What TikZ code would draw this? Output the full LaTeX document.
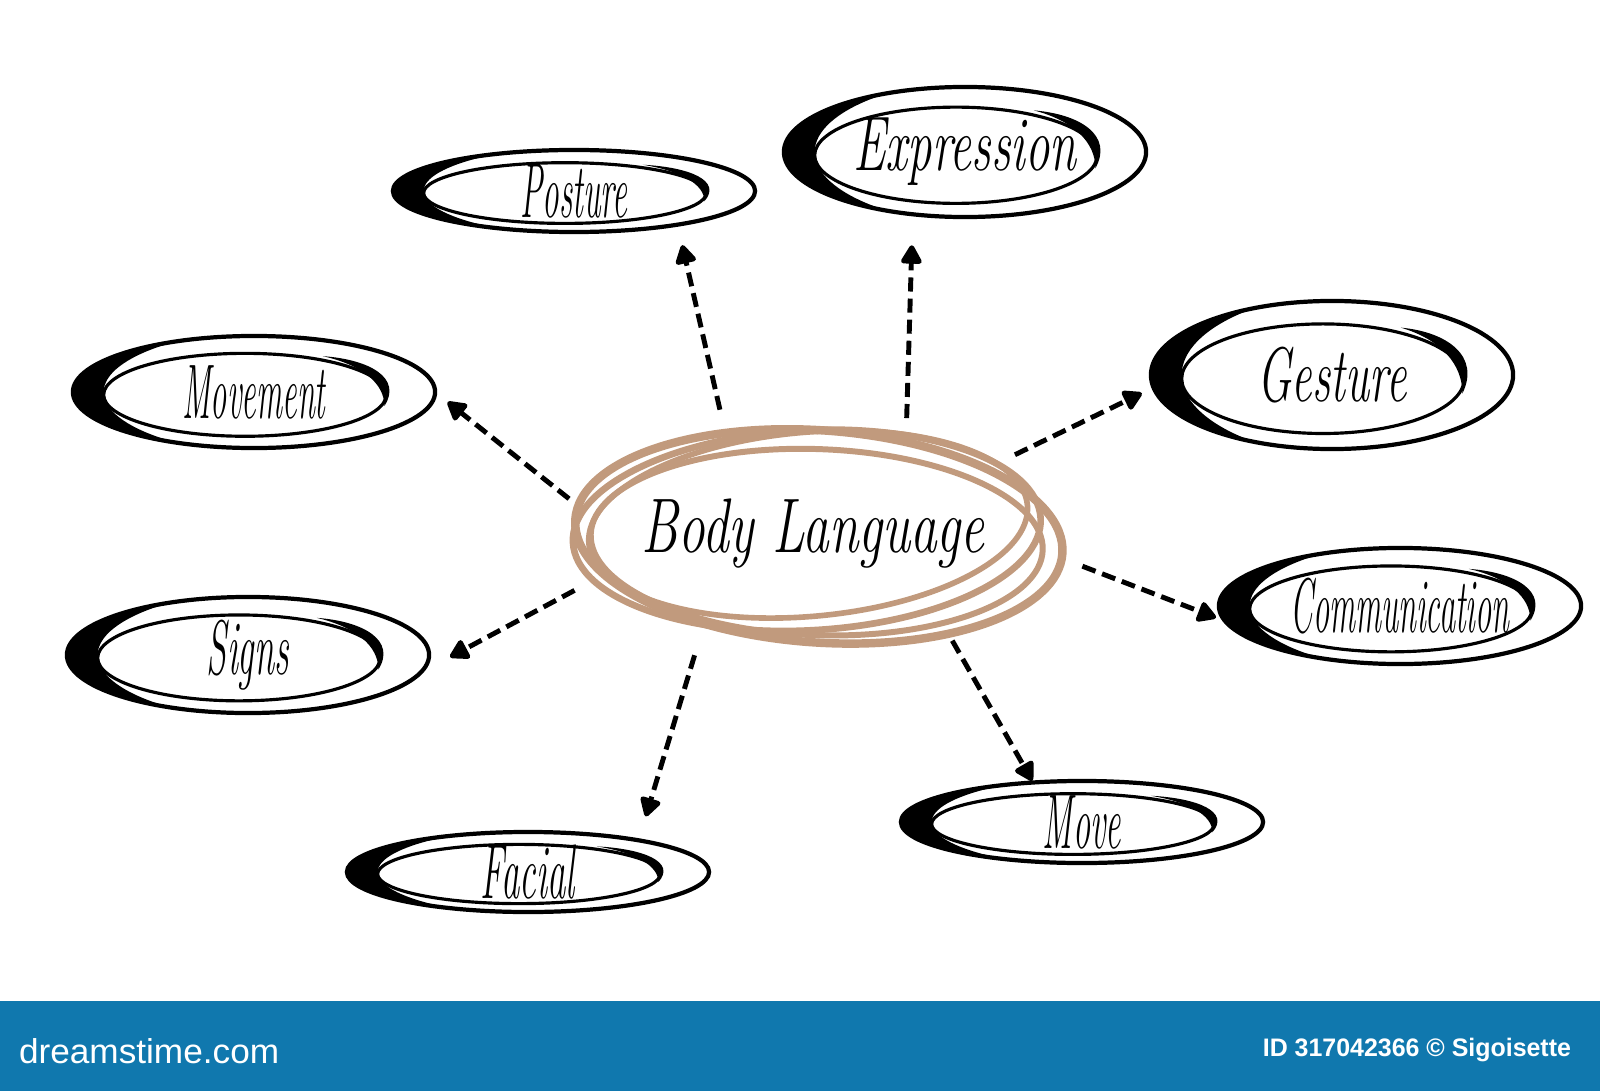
\documentclass[tikz,border=0pt]{standalone}
\usepackage{fontspec}
\usepackage{tikz}
\usetikzlibrary{shapes.geometric, arrows.meta}
\newfontfamily\bannerfont{Liberation Sans}
\definecolor{ringbrown}{HTML}{C19A7D}
\definecolor{bannerblue}{HTML}{1078AE}
\newcommand{\hand}[2]{\resizebox{#1}{\height}{\itshape #2}}

\begin{document}
\begin{tikzpicture}[x=0.01cm, y=-0.01cm,
    bubble/.style={ellipse, draw=black, line width=1.2pt, inner sep=0pt, outer sep=0pt,
        minimum width=3.62cm, minimum height={2*#1cm}, font=\fontsize{22}{24}\selectfont},
    hub/.style={ellipse, inner sep=0pt, outer sep=0pt, minimum width=4.9cm, minimum height=2.16cm,
        font=\fontsize{22}{24}\selectfont},
    ring/.style={draw=ringbrown, line width=2pt},
    dasharrow/.style={line width=1.4pt, dash pattern=on 4pt off 2pt, -{Triangle[length=6pt, width=6.5pt, round]}},
    bannertext/.style={text=white, inner sep=0pt, outer sep=0pt}]

    \useasboundingbox (0,0) rectangle (1600,1091);

    % centre
    \node[hub] (body) at (813,534) {\hand{3.43cm}{Body Language}};
    \draw[ring, line width=2.4pt, rotate around={-4:(body.center)}] ([shift={(6,2)}]body.center) ellipse [x radius=2.44cm, y radius=1.06cm];
    \draw[ring, line width=1.9pt, rotate around={3:(body.center)}] ([shift={(-6,-4)}]body.center) ellipse [x radius=2.34cm, y radius=1.0cm];
    \draw[ring, line width=1.7pt, rotate around={-2:(body.center)}] ([shift={(4,8)}]body.center) ellipse [x radius=2.26cm, y radius=0.93cm];
    \draw[ring, line width=1.6pt, rotate around={5:(body.center)}] ([shift={(-4,-10)}]body.center) ellipse [x radius=2.2cm, y radius=0.92cm];

    % outer bubbles
    \node[bubble=0.41] (posture) at (574,191) {\hand{1.07cm}{Posture}};
    \node[bubble=0.65] (expression) at (965,152) {\hand{2.23cm}{Expression}};
    \node[bubble=0.74] (gesture) at (1332,375) {\hand{1.49cm}{Gesture}};
    \node[bubble=0.58] (communication) at (1400,606) {\hand{2.19cm}{Communication}};
    \node[bubble=0.41] (move) at (1082,822) {\hand{0.78cm}{Move}};
    \node[bubble=0.40] (facial) at (528,872) {\hand{0.94cm}{Facial}};
    \node[bubble=0.58] (signs) at (248,655) {\hand{0.82cm}{Signs}};
    \node[bubble=0.56] (movement) at (254,392) {\hand{1.43cm}{Movement}};

    % brush strokes inside each bubble
    \foreach \n/\ry in {posture/0.41, expression/0.65, gesture/0.74, communication/0.58,
                        move/0.41, facial/0.40, signs/0.58, movement/0.56}{
        \begin{scope}[shift={(\n.center)}, x=1cm, y=1cm, xscale=1.81, yscale=\ry]
            \begin{scope}
                \clip (0,0) ellipse [x radius=1cm, y radius=1cm];
                \fill[black, even odd rule] (-1.2,-1.2) rectangle (1.2,1.2)
                    (0.27,0) ellipse [x radius=1.1cm, y radius=1.17cm];
            \end{scope}
            \draw[line width=0.9pt] (-0.05,-0.05) ellipse [x radius=0.78cm, y radius=0.74cm];
            \fill[black] (0.38,0.64) .. controls (0.64,0.58) and (0.82,0.25) .. (0.72,-0.25)
                .. controls (0.72,0.15) and (0.6,0.48) .. (0.38,0.64);
        \end{scope}
    }

    \draw[dasharrow, shorten <=0.24cm, shorten >=0.21cm] (body.131.8) -- (posture.-18.3);
    \draw[dasharrow, shorten <=0.16cm, shorten >=0.31cm] (body.47.2) -- (expression.-130.5);
    \draw[dasharrow, shorten <=0.19cm, shorten >=0.13cm] (body.21.4) -- (gesture.-176.7);
    \draw[dasharrow, shorten <=0.31cm, shorten >=0.10cm] (body.-5.05) -- (communication.-175.95);
    \draw[dasharrow, shorten <=0.175cm, shorten >=0.02cm] (body.-35.4) -- (move.141.8);
    \draw[dasharrow, shorten <=0.26cm, shorten >=0.25cm] (body.-139.3) -- (facial.16);
    \draw[dasharrow, shorten <=0.20cm, shorten >=0.34cm] (body.-168.8) -- (signs.-6.2);
    \draw[dasharrow, shorten <=0.10cm, shorten >=0.16cm] (body.173.4) -- (movement.-0.9);

    % banner
    \fill[bannerblue] (0,1001) rectangle (1600,1091);
    \node[bannertext, anchor=base west] (site) at (19,1063) {\bannerfont\fontsize{9.8}{11}\selectfont\resizebox{2.6cm}{\height}{dreamstime.com}};
    \node[bannertext, anchor=base east] (credit) at (1571,1056) {\bannerfont\bfseries\fontsize{7.2}{9}\selectfont\resizebox{3.08cm}{\height}{ID 317042366 © Sigoisette}};
\end{tikzpicture}
\end{document}
